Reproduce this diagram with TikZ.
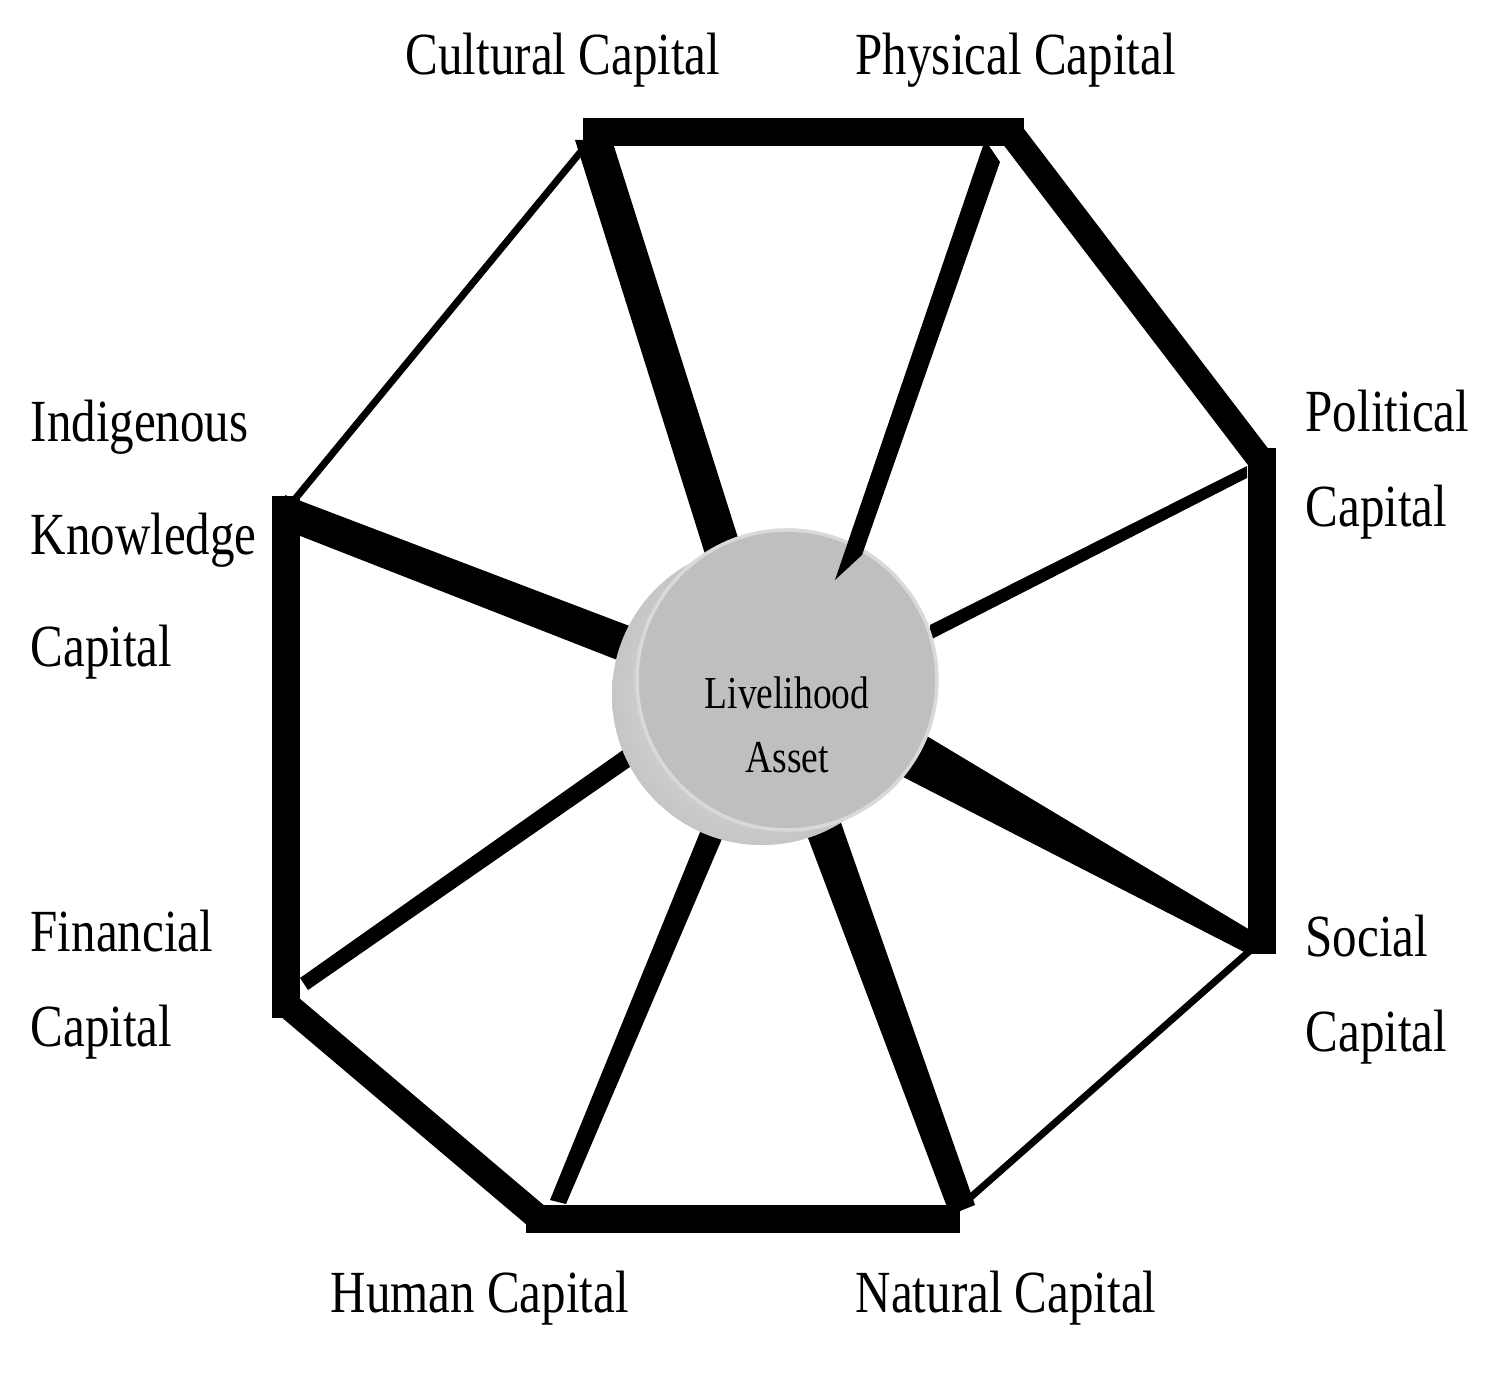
\documentclass[tikz,border=0pt]{standalone}
\usepackage{fontspec}
\setmainfont{Liberation Serif}[FakeStretch=0.82]
\begin{document}
\begin{tikzpicture}[x=0.01cm,y=-0.01cm,
  lbl/.style={font=\fontsize{17}{27}\selectfont,align=left,inner sep=0pt},
  thick edge/.style={line width=28*0.01cm*28.45/1,line join=miter},
  ]
\useasboundingbox (0,0) rectangle (1491,1392);
\coordinate (A) at (597,132);
\coordinate (B) at (1010,132);
\coordinate (C) at (1262,462);
\coordinate (D) at (1262,940);
\coordinate (E) at (946,1219);
\coordinate (F) at (540,1219);
\coordinate (G) at (286,1004);
\coordinate (H) at (286,510);
\coordinate (O) at (775,690);
% octagon edges
\draw[line width=28pt*0.2845,line cap=rect] (A)--(B);
\draw[line width=26pt*0.2845] (B)--(C);
\draw[line width=28pt*0.2845,line cap=rect] (C)--(D);
\draw[line width=7pt*0.2845] (D)--(E);
\draw[line width=28pt*0.2845,line cap=rect] (E)--(F);
\draw[line width=26pt*0.2845] (F)--(G);
\draw[line width=28pt*0.2845,line cap=rect] (G)--(H);
\draw[line width=7pt*0.2845] (H)--(A);
% spokes
\fill (575,140) -- (612,140) -- (745,560) -- (710,570) -- cycle;
\fill (1247,478) -- (1247,466) -- (930,625) -- (930,640) -- cycle;
\fill (1250,930) -- (1250,955) -- (870,760) -- (900,720) -- cycle;
\fill (950,1215) -- (975,1205) -- (840,820) -- (805,830) -- cycle;
\fill (550,1200) -- (566,1204) -- (730,820) -- (705,820) -- cycle;
\fill (300,978) -- (308,990) -- (640,760) -- (630,745) -- cycle;
\fill (285,495) -- (285,530) -- (630,665) -- (640,630) -- cycle;
% circle
\fill[gray!35] (762,695) circle (150);
\shade[inner color=gray!15,outer color=gray!45] (762,695) circle (150);
\fill[gray!50] (787,680) circle (150);
\draw[gray!30,line width=1pt] (787,680) circle (150);
% physical spoke (over circle)
\fill (985,140) -- (1000,162) -- (862,555) -- (835,580) -- cycle;
\node[lbl,align=center,font=\fontsize{13}{18}\selectfont] (c) at (787,725) {Livelihood\\Asset};
% labels
\node[lbl,anchor=west] (l1) at (405,60) {Cultural Capital};
\node[lbl,anchor=west] (l2) at (855,60) {Physical Capital};
\node[lbl,anchor=west] (l3) at (1305,465) {Political\\Capital};
\node[lbl,anchor=west] (l4) at (1305,990) {Social\\Capital};
\node[lbl,anchor=west] (l5) at (855,1298) {Natural Capital};
\node[lbl,anchor=west] (l6) at (330,1298) {Human Capital};
\node[lbl,anchor=west] (l7) at (30,985) {Financial\\Capital};
\node[lbl,anchor=west,font=\fontsize{17}{32}\selectfont] (l8) at (30,540) {Indigenous\\Knowledge\\Capital};
\end{tikzpicture}
\end{document}
